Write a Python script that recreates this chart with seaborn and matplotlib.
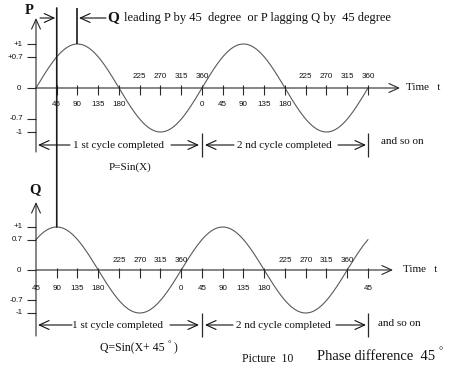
import numpy as np
import pandas as pd
import matplotlib
matplotlib.use("Agg")
import matplotlib.pyplot as plt
import matplotlib.transforms as mtransforms
from matplotlib.patches import ConnectionPatch, FancyArrowPatch
import seaborn as sns

# ---------------------------------------------------------------- data
angle_deg = np.arange(0, 721, 1)          # X, two full cycles in degrees
phase_shift_deg = 45                       # Q leads P by this much

tick_angles = list(range(45, 721, 45))

# P axis: labels under / over the time axis
p_below_at = [45, 90, 135, 180, 360, 405, 450, 495, 540]
p_below_txt = ["45", "90", "135", "180", "0", "45", "90", "135", "180"]
p_above_at = [225, 270, 315, 360, 585, 630, 675, 720]
p_above_txt = ["225", "270", "315", "360", "225", "270", "315", "360"]

# Q axis: same time positions, labels read in the phase of Q (X + 45)
q_below_at = [0, 45, 90, 135, 315, 360, 405, 450, 495, 720]
q_below_txt = ["45", "90", "135", "180", "0", "45", "90", "135", "180", "45"]
q_above_at = [180, 225, 270, 315, 540, 585, 630, 675]
q_above_txt = ["225", "270", "315", "360", "225", "270", "315", "360"]

amp_ticks = [1, 0.7, 0, -0.7, -1]
p_amp_txt = ["+1", "+0.7", "0", "-0.7", "-1"]
q_amp_txt = ["+1", "0.7", "0", "-0.7", "-1"]

cycle_ends = [360, 720]

p_df = pd.DataFrame({"X": angle_deg, "P": np.sin(np.radians(angle_deg))})
q_df = pd.DataFrame({"X": angle_deg,
                     "Q": np.sin(np.radians(angle_deg + phase_shift_deg))})

# ---------------------------------------------------------------- style
sns.set_theme(style="white")
plt.rcParams["font.family"] = ["Liberation Serif", "DejaVu Serif"]
NUM_FONT = ["Liberation Sans Narrow", "Liberation Sans", "DejaVu Sans"]
INK = "#111111"
AXIS = "#2a2a2a"
CURVE = "#5a5a5a"

W, H = 474, 368
fig = plt.figure(figsize=(W / 100, H / 100), dpi=100)
fig.patch.set_facecolor("white")
# pixel coordinates measured from the top-left corner, used for text layout
pix = mtransforms.Affine2D().scale(1 / W, -1 / H).translate(0, 1) + fig.transFigure

X0 = 36            # left edge of both time axes
K = 0.4611         # pixels per degree


def make_panel(y0, amp):
    ax = fig.add_axes([0, 0, 1, 1])
    ax.set_facecolor("none")
    ax.set_xlim(-X0 / K, (W - X0) / K)
    ax.set_ylim(-(H - y0) / amp, y0 / amp)
    ax.set_axis_off()
    return ax


ax_p = make_panel(88, 44)
ax_q = make_panel(270, 43)

arrow_kw = dict(arrowstyle="->,head_length=0.7,head_width=0.32", color=AXIS,
                lw=0.8, shrinkA=0, shrinkB=0, mutation_scale=10)
head_kw = dict(arrowstyle="->,head_length=0.7,head_width=0.32", color=INK,
               lw=0.8, shrinkA=0, shrinkB=0, mutation_scale=10)


def draw_panel(ax, df, ycol, amp, x_end, y_top, y_bot, tick_up, tick_dn,
               below_at, below_txt, above_at, above_txt, lab_dn, lab_up,
               amp_txt):
    sns.lineplot(data=df, x="X", y=ycol, ax=ax, color=CURVE, lw=0.8,
                 legend=False)
    ax.set_axis_off()
    # time axis and amplitude axis with open arrowheads
    ax.annotate("", xy=(x_end, 0), xytext=(0, 0), arrowprops=arrow_kw)
    ax.annotate("", xy=(0, y_top), xytext=(0, y_bot), arrowprops=arrow_kw)
    ax.vlines(tick_angles, -tick_dn / amp, tick_up / amp, color=AXIS, lw=0.8)
    ax.hlines(amp_ticks, -8.5 / K, 0, color=AXIS, lw=0.8)
    for a, t in zip(below_at, below_txt):
        ax.text(a, -lab_dn / amp, t, ha="center", va="center", fontsize=5.8,
                family=NUM_FONT, color=INK)
    for a, t in zip(above_at, above_txt):
        ax.text(a, lab_up / amp, t, ha="center", va="center", fontsize=5.8,
                family=NUM_FONT, color=INK)
    for v, t in zip(amp_ticks, amp_txt):
        xx = -17 / K if v == 0 else -13 / K
        ax.text(xx, v, t, ha="right" if v != 0 else "center", va="center",
                fontsize=5.8, family=NUM_FONT, color=INK)


draw_panel(ax_p, p_df, "P", 44, (400 - X0) / K, 70 / 44, -64 / 44, 3, 7,
           p_below_at, p_below_txt, p_above_at, p_above_txt, 16, 11, p_amp_txt)
draw_panel(ax_q, q_df, "Q", 43, (393 - X0) / K, 68 / 43, -66 / 43, 2, 8,
           q_below_at, q_below_txt, q_above_at, q_above_txt, 18, 10, q_amp_txt)

# peak markers: P peaks at X = 90, Q peaks at X = 45
top_y = 80 / 44
ax_p.vlines(90, 1, top_y, color="#1a1a1a", lw=1.2)
con = ConnectionPatch(xyA=(45, top_y), coordsA=ax_p.transData,
                      xyB=(90 - phase_shift_deg, 1), coordsB=ax_q.transData,
                      color="#1a1a1a", lw=1.2)
fig.add_artist(con)

ax_p.annotate("", xy=(45 - 1.5 / K, 70 / 44),
              xytext=(4 / K, 70 / 44), arrowprops=head_kw)
ax_p.annotate("", xy=(90 + 1.5 / K, 70 / 44),
              xytext=(70 / K, 70 / 44), arrowprops=head_kw)
fig.text(107, 18, "Q", transform=pix, fontsize=11, weight="bold",
         ha="left", va="center", color=INK)
fig.text(124, 18, "leading P by 45  degree  or P lagging Q by  45 degree",
         transform=pix, fontsize=9, ha="left", va="center", color=INK)

# axis names
fig.text(29, 11, "P", transform=pix, fontsize=10.5, weight="bold",
         ha="center", va="center", color=INK)
fig.text(35, 190, "Q", transform=pix, fontsize=10.5, weight="bold",
         ha="center", va="center", color=INK)
fig.text(406, 88, "Time   t", transform=pix, fontsize=8, ha="left",
         va="center", color=INK)
fig.text(403, 269, "Time   t", transform=pix, fontsize=8, ha="left",
         va="center", color=INK)


def cycle_row(ax, y, tail_l, head_r_tail, tail_2l, head_2r_tail, c1, c2,
              so_x, so_y):
    blend = mtransforms.blended_transform_factory(ax.transData, pix)
    ax.vlines(cycle_ends, y - 12, y + 12, transform=blend, color=AXIS, lw=0.9)
    x1 = X0 + 2
    bar1 = X0 + cycle_ends[0] * K
    bar2 = X0 + cycle_ends[1] * K
    for tip, tail in [(x1, tail_l), (bar1 - 3, head_r_tail),
                      (bar1 + 3, tail_2l), (bar2 - 2, head_2r_tail)]:
        fig.add_artist(FancyArrowPatch((tail, y), (tip, y), transform=pix,
                                       **head_kw))
    fig.text(c1, y, "1 st cycle completed", transform=pix, fontsize=8,
             ha="center", va="center", color=INK)
    fig.text(c2, y, "2 nd cycle completed", transform=pix, fontsize=8,
             ha="center", va="center", color=INK)
    fig.text(so_x, so_y, "and so on", transform=pix, fontsize=8,
             ha="left", va="center", color=INK)


cycle_row(ax_p, 145, 70, 171, 234, 338, 118.5, 284, 381, 142)
cycle_row(ax_q, 325, 72, 170, 233, 336, 117.5, 283, 378, 323)

fig.text(130, 167, "P=Sin(X)", transform=pix, fontsize=8, ha="center",
         va="center", color=INK)


def with_degree(x, y, text, size, tail=""):
    """Text followed by a small raised degree sign and an optional tail."""
    t = fig.text(x, y, text, transform=pix, fontsize=size, ha="left",
                 va="center", color=INK)
    ax_q.annotate("°", xy=(1, 1), xycoords=t, xytext=(2.5, 1.5),
                  textcoords="offset points", fontsize=size * 0.75,
                  ha="left", va="top", color=INK, annotation_clip=False)
    if tail:
        ax_q.annotate(tail, xy=(1, 0.5), xycoords=t,
                      xytext=(size * 0.75, 0), textcoords="offset points",
                      fontsize=size, ha="left", va="center", color=INK,
                      annotation_clip=False)
    return t


with_degree(100, 348, "Q=Sin(X+ 45", 8.5, tail=")")
fig.text(242, 359, "Picture  10", transform=pix, fontsize=8.5, ha="left",
         va="center", color=INK)
with_degree(317, 356, "Phase difference  45", 10.5)

fig.savefig("out.png", dpi=100)
